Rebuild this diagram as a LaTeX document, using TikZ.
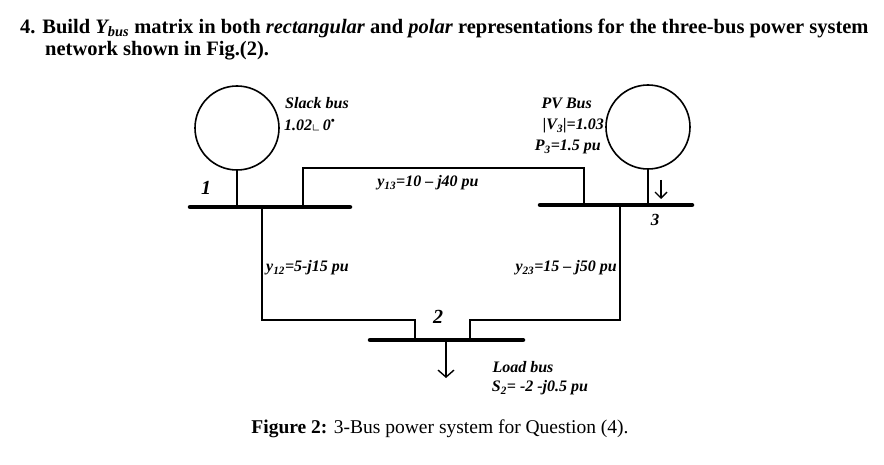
\documentclass[tikz,border=0pt]{standalone}
\usepackage{amssymb}
\usepackage{fontspec}
\setmainfont{Liberation Serif}
\usetikzlibrary{arrows.meta}
\newcommand{\sbs}[1]{\textsubscript{#1}}
\begin{document}
\begin{tikzpicture}[x=1pt,y=-1pt,
  bus/.style={line width=4.5pt,line cap=round},
  wire/.style={line width=1.4pt},
  lbl/.style={font=\bfseries\itshape\fontsize{16}{17}\selectfont,inner sep=0pt},
  num/.style={font=\bfseries\itshape\fontsize{20}{20}\selectfont,inner sep=0pt},
  hdr/.style={anchor=west,font=\bfseries\fontsize{20.5}{22}\selectfont,inner sep=0pt},
  gen/.style={circle,draw,line width=1.6pt,minimum size=84pt,inner sep=0pt}]
\useasboundingbox (0,0) rectangle (884,465);
\node[hdr] (h1) at (20,28) {4. Build {\itshape Y\textsubscript{bus}} matrix in both \textit{rectangular} and \textit{polar} representations for the three-bus power system};
\node[hdr] (h2) at (45,51) {network shown in Fig.(2).};
% buses
\coordinate (b1l) at (190,207); \coordinate (b1r) at (350,207);
\coordinate (b3l) at (540,205); \coordinate (b3r) at (692,205);
\coordinate (b2l) at (370,340); \coordinate (b2r) at (523,340);
\draw[bus] (b1l) -- (b1r);
\draw[bus] (b3l) -- (b3r);
\draw[bus] (b2l) -- (b2r);
% generators
\node[gen] (g1) at (237,128) {};
\node[gen] (g3) at (648,127) {};
\coordinate (s1) at (237,207); \coordinate (s3) at (648,205);
\draw[wire] (g1.south) -- (s1);
\draw[wire] (g3.south) -- (s3);
% lines
\coordinate (a1) at (303,207); \coordinate (a3) at (584,205);
\draw[wire] (a1) |- (443,168) -| (a3);
\coordinate (c1) at (262,207); \coordinate (c2) at (415,340);
\draw[wire] (c1) |- (415,320) -- (c2);
\coordinate (d3) at (620,205); \coordinate (d2) at (470,340);
\draw[wire] (d3) |- (470,320) -- (d2);
% loads
\coordinate (l3a) at (661,180); \coordinate (l3b) at (661,199);
\draw[wire,-{Straight Barb[length=6pt,width=12pt]}] (l3a) -- (l3b);
\coordinate (l2a) at (446,340); \coordinate (l2b) at (446,378);
\draw[wire,-{Straight Barb[length=7pt,width=16pt]}] (l2a) -- (l2b);
% labels
\node[num] (n1) at (206,188) {1};
\node[num] (n2) at (438,317) {2};
\node[num,font=\bfseries\itshape\fontsize{17}{17}\selectfont] (n3) at (655,220) {3};
\node[lbl,anchor=west] (t1) at (285,103) {Slack bus};
\node[lbl,anchor=west] (t2) at (284,125) {1.02$\llcorner$\,0\textsuperscript{•}};
\node[lbl,anchor=east] (t3) at (592,103) {PV Bus};
\node[lbl,anchor=east] (t4) at (604,126) {|V\sbs{3}|=1.03};
\node[lbl,anchor=east] (t5) at (601,147) {P\sbs{3}=1.5 pu};
\node[lbl] (t6) at (428,183) {y\sbs{13}=10 – j40 pu};
\node[lbl,anchor=west] (t7) at (266,268) {y\sbs{12}=5-j15 pu};
\node[lbl,anchor=east] (t8) at (617,268) {y\sbs{23}=15 – j50 pu};
\node[lbl] (t9) at (523,367) {Load bus};
\node[lbl] (t10) at (540,388) {S\sbs{2}= -2 -j0.5 pu};
\node[font=\fontsize{19.5}{21}\selectfont,inner sep=0pt] (cap) at (440,429) {\textbf{Figure 2:} 3-Bus power system for Question (4).};
\end{tikzpicture}
\end{document}
